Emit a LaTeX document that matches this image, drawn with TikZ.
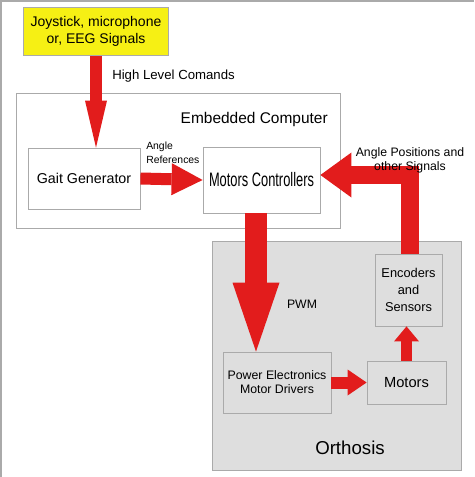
\documentclass[tikz,border=0pt]{standalone}
\usepackage{fontspec}
\setmainfont{Liberation Sans}
\usetikzlibrary{arrows.meta}

\definecolor{arrred}{RGB}{226,28,28}
\definecolor{boxline}{RGB}{170,170,170}
\definecolor{orthgray}{RGB}{222,222,222}
\definecolor{sigyellow}{RGB}{246,240,20}

\tikzset{
  blk/.style={draw=boxline, line width=0.6pt, inner sep=0pt, align=center},
  bigarrow/.style={draw=arrred, line width=#1},
}

\begin{document}
\begin{tikzpicture}[x=0.75pt,y=0.75pt,yscale=-1,xscale=1]
\useasboundingbox (0,0) rectangle (474,477);
%frame
\draw [color=boxline, line width=1.5pt] (1,477) -- (1,1) -- (474,1) ;

%Shapes
\node [blk, fill=white, minimum width=243pt, minimum height=101.25pt] (ec) at (178,160.5) {};
\node [blk, fill=orthgray, minimum width=186.75pt, minimum height=171.75pt] (orth) at (336.5,355.5) {};

%Boxes
\node [blk, fill=sigyellow, minimum width=108.75pt, minimum height=36pt, font=\fontsize{10.5}{12.5}\selectfont] (ysig) at (96,31.5) {Joystick, microphone\\or, EEG Signals};
\node [blk, fill=white, minimum width=84pt, minimum height=45.75pt, font=\fontsize{10.7}{13}\selectfont] (gait) at (84,178.5) {Gait Generator};
\node [blk, fill=white, minimum width=87.75pt, minimum height=49.5pt, font=\fontsize{14.6}{17}\selectfont] (mc) at (261.5,180) {\scalebox{0.66}[1]{Motors Controllers}};
\node [blk, fill=orthgray, minimum width=50.25pt, minimum height=54pt, font=\fontsize{9.6}{12.8}\selectfont] (enc) at (408.5,290) {Encoders\\and\\Sensors};
\node [blk, fill=orthgray, minimum width=59.25pt, minimum height=32.25pt, font=\fontsize{11}{13}\selectfont] (mot) at (406.5,382.5) {Motors};
\node [blk, fill=orthgray, minimum width=81pt, minimum height=45.75pt, font=\fontsize{9.25}{10.5}\selectfont] (pe) at (277,382.5) {Power Electronics\\Motor Drivers};

%Block Arrows
\draw [bigarrow=8.6pt, -{Triangle[width=16.5pt, length=35.25pt, line width=0pt]}] (ysig.south) -- (ysig.south |- gait.north) ;
\draw [bigarrow=9pt, -{Triangle[width=24pt, length=23.25pt, line width=0pt]}] (gait.east) -- (mc.west) ;
\coordinate (pwmtop) at (256,213) ;
\draw [bigarrow=16.5pt, -{Triangle[width=35.25pt, length=51.75pt, line width=0pt]}] (pwmtop) -- (pwmtop |- pe.north) ;
\draw [bigarrow=9pt, -{Triangle[width=19.5pt, length=14.25pt, line width=0pt]}] (pe.east) -- (mot.west) ;
\draw [bigarrow=8.25pt, -{Triangle[width=18.75pt, length=11.25pt, line width=0pt]}] (mot.north) -- (mot.north |- enc.south) ;
\draw [bigarrow=14pt, -{Triangle[width=33.75pt, length=23.25pt, line width=0pt]}] ([xshift=1.2pt]enc.north) |- ([yshift=-3.75pt]mc.east) ;

% Text Node
\node [anchor=west, inner sep=0pt, font=\fontsize{9.9}{12}\selectfont] (hlc) at (112,76) {High Level Comands};
% Text Node
\node [anchor=east, inner sep=0pt, font=\fontsize{11.6}{14}\selectfont] (ectxt) at (328,120) {Embedded Computer};
% Text Node
\node [anchor=west, inner sep=0pt, align=left, font=\fontsize{7.8}{10.5}\selectfont] (angref) at (146,153) {Angle\\References};
% Text Node
\node [inner sep=0pt, align=center, font=\fontsize{9.2}{10.5}\selectfont] (angpos) at (410,160) {Angle Positions and\\other Signals};
% Text Node
\node [inner sep=0pt, font=\fontsize{9.2}{11}\selectfont] (pwm) at (302,304) {PWM};
% Text Node
\node [inner sep=0pt, font=\fontsize{14}{16}\selectfont] (orthtxt) at (350,448) {Orthosis};

\end{tikzpicture}
\end{document}
